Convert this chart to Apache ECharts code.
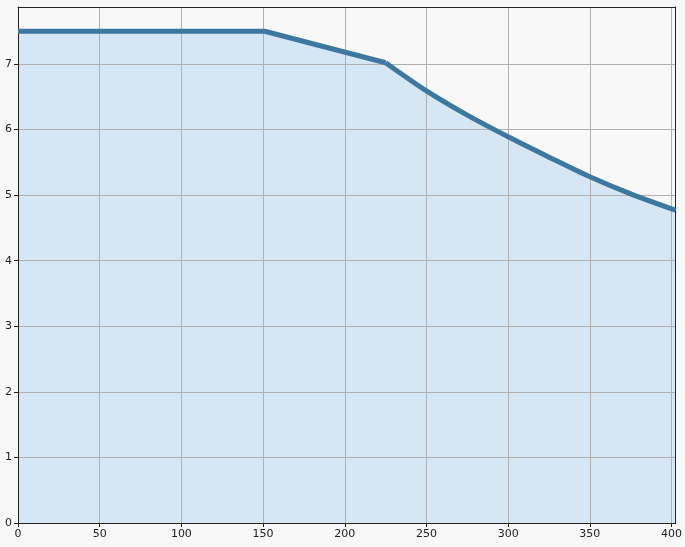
<!DOCTYPE html>
<html>
<head>
<meta charset="utf-8">
<script src="https://cdn.jsdelivr.net/npm/echarts@6/dist/echarts.min.js"></script>
<style>
html,body{margin:0;padding:0;background:#f8f8f8;}
#chart{width:685px;height:547px;}
</style>
</head>
<body>
<div id="chart"></div>
<script>
// straight segment (plateau + linear drop)
const xStraight = [0, 151, 225];
const yStraight = [7.5, 7.5, 7.02];
// curved segment
const xCurve = [225, 250, 275, 300, 325, 350, 375, 402.5];
const yCurve = [7.02, 6.59, 6.22, 5.89, 5.58, 5.28, 5.02, 4.77];
const xTicks = [0, 50, 100, 150, 200, 250, 300, 350, 400];
const yTicks = [0, 1, 2, 3, 4, 5, 6, 7];

const chart = echarts.init(document.getElementById('chart'), null, {renderer: 'canvas'});
const labelStyle = {color: '#222', fontFamily: 'DejaVu Sans', fontSize: 11, showMaxLabel: false, margin: 6};
const axisCommon = {
  z: 3,
  axisLine: {show: true, onZero: false, lineStyle: {color: '#222', width: 1}},
  axisTick: {show: true, inside: false, length: 4, lineStyle: {color: '#222'}},
  splitLine: {show: true, lineStyle: {color: '#b0b0b0', width: 1}}
};
const frameAxis = {
  z: 4,
  axisLine: {show: true, onZero: false, lineStyle: {color: '#222', width: 1}},
  axisTick: {show: false}, axisLabel: {show: false}, splitLine: {show: false}
};
const ptsA = xStraight.map((x, i) => [x, yStraight[i]]);
const ptsB = xCurve.map((x, i) => [x, yCurve[i]]);
const ptsAll = ptsA.concat(ptsB.slice(1));
chart.setOption({
  backgroundColor: '#f8f8f8',
  animation: false,
  grid: {left: 18, right: 8, top: 7, bottom: 24},
  xAxis: [
    Object.assign({}, axisCommon, {
      type: 'value', min: 0, max: 402.5, interval: 50, position: 'bottom',
      axisLabel: Object.assign({}, labelStyle, {formatter: v => xTicks.includes(v) ? String(v) : ''})
    }),
    Object.assign({}, frameAxis, {type: 'value', min: 0, max: 402.5, position: 'top'})
  ],
  yAxis: [
    Object.assign({}, axisCommon, {
      type: 'value', min: 0, max: 7.87, interval: 1, position: 'left',
      axisLabel: Object.assign({}, labelStyle, {formatter: v => yTicks.includes(v) ? String(v) : ''})
    }),
    Object.assign({}, frameAxis, {type: 'value', min: 0, max: 7.87, position: 'right'})
  ],
  series: [
    {type: 'line', data: ptsAll, z: 1, symbol: 'none', silent: true,
     lineStyle: {width: 0, opacity: 0}, areaStyle: {color: '#d5e6f4', opacity: 1}},
    {type: 'line', data: ptsA, z: 5, symbol: 'none',
     lineStyle: {color: '#3d78a0', width: 5, join: 'round'}},
    {type: 'line', data: ptsB, z: 5, symbol: 'none', smooth: 0.3,
     lineStyle: {color: '#3d78a0', width: 5, join: 'round'}}
  ]
});
</script>
</body>
</html>
